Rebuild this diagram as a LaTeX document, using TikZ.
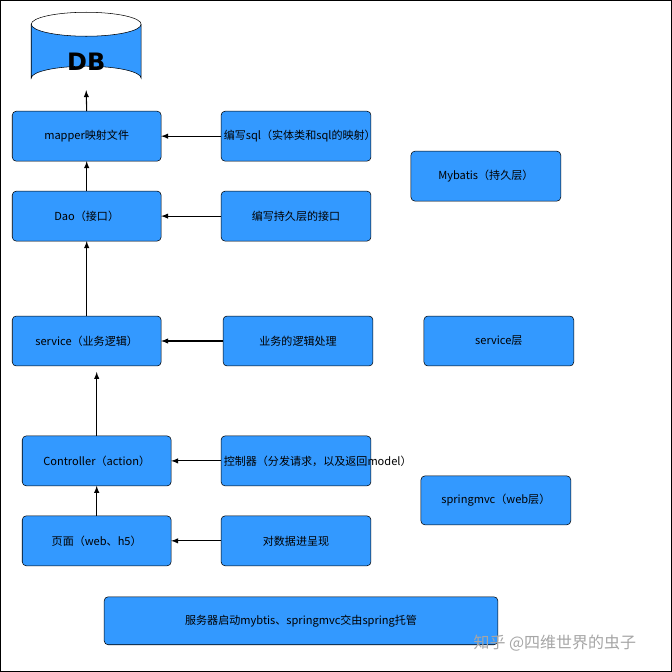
\documentclass[tikz,border=0pt]{standalone}
\usepackage{fontspec}
\setmainfont{Noto Sans CJK SC}
\newfontfamily\dvb{DejaVu Sans}
\begin{document}
\begin{tikzpicture}[x=0.75pt,y=-0.75pt,
 box/.style={draw=black,fill=blue1,rounded corners=3pt,inner sep=0pt,font=\fontsize{8.3}{10}\selectfont,align=center,text width=#1},
 box/.default=108pt,
 arr/.style={-latex,thick}]
\definecolor{blue1}{HTML}{3399FF}
\tikzset{every node/.append style={}}
\draw[fill=white] (0,0) rectangle (672,672);
\useasboundingbox (0,0) rectangle (672,672);
% cylinder
\fill[blue1] (31,24) -- (31,78) arc[start angle=180,end angle=360,x radius=55,y radius=12] -- (141,24) arc[start angle=0,end angle=180,x radius=55,y radius=12];
\draw (31,24) -- (31,78) arc[start angle=180,end angle=360,x radius=55,y radius=12] -- (141,24);
\draw (86,24) ellipse[x radius=55,y radius=12];
\node[font=\dvb\bfseries\fontsize{18}{20}\selectfont] (db) at (86,62) {DB};
\coordinate (dbb) at (86,90);
\newcommand\bx[6]{\draw[fill=blue1,rounded corners=3pt] (#2,#3) rectangle (#4,#5); \node[font=\fontsize{8.3}{10}\selectfont,align=center,text width=#4*0.75pt-#2*0.75pt-4pt] (#1) at ({(#2+#4)/2},{(#3+#5)/2}) {#6}; \coordinate (#1-n) at ({(#2+#4)/2},#3); \coordinate (#1-s) at ({(#2+#4)/2},#5); \coordinate (#1-w) at (#2,{(#3+#5)/2}); \coordinate (#1-e) at (#4,{(#3+#5)/2});}
\bx{mapper}{12}{111}{161}{161}{mapper映射文件}
\bx{sql}{221}{111}{371}{161}{编写sql（实体类和sql的映射）}
\bx{dao}{12}{191}{161}{241}{Dao（接口）}
\bx{daoi}{221}{191}{371}{241}{编写持久层的接口}
\bx{myb}{411}{151}{561}{201}{Mybatis（持久层）}
\bx{svc}{12}{316}{161}{366}{service（业务逻辑）}
\bx{logic}{223}{316}{373}{366}{业务的逻辑处理}
\bx{svcl}{424}{316}{574}{366}{service层}
\bx{ctl}{22}{436}{171}{486}{Controller（action）}
\bx{ctli}{221}{436}{371}{486}{控制器（分发请求，以及返回model）}
\bx{smvc}{421}{476}{571}{525}{springmvc（web层）}
\bx{page}{22}{516}{171}{566}{页面（web、h5）}
\bx{show}{221}{516}{371}{566}{对数据进呈现}
\bx{boot}{104}{597}{498}{645}{服务器启动mybtis、springmvc交由spring托管}
\draw[arr] (mapper-n) -- (dbb);
\draw[arr] (dao-n) -- (mapper-s);
\draw[arr] (svc-n) -- (dao-s);
\draw[arr] (ctl-n) -- ([yshift=-4.5pt]svc-s -| ctl-n);
\draw[arr] (page-n) -- (ctl-s);
\draw[arr] (sql-w) -- (mapper-e);
\draw[arr] (daoi-w) -- (dao-e);
\draw[arr] (logic-w) -- (svc-e);
\draw[arr] (ctli-w) -- (ctl-e);
\draw[arr] (show-w) -- (page-e);
\node[text=gray!70,font=\fontsize{12}{14}\selectfont] (wm) at (555,643) {知乎 @四维世界的虫子};
\end{tikzpicture}
\end{document}
